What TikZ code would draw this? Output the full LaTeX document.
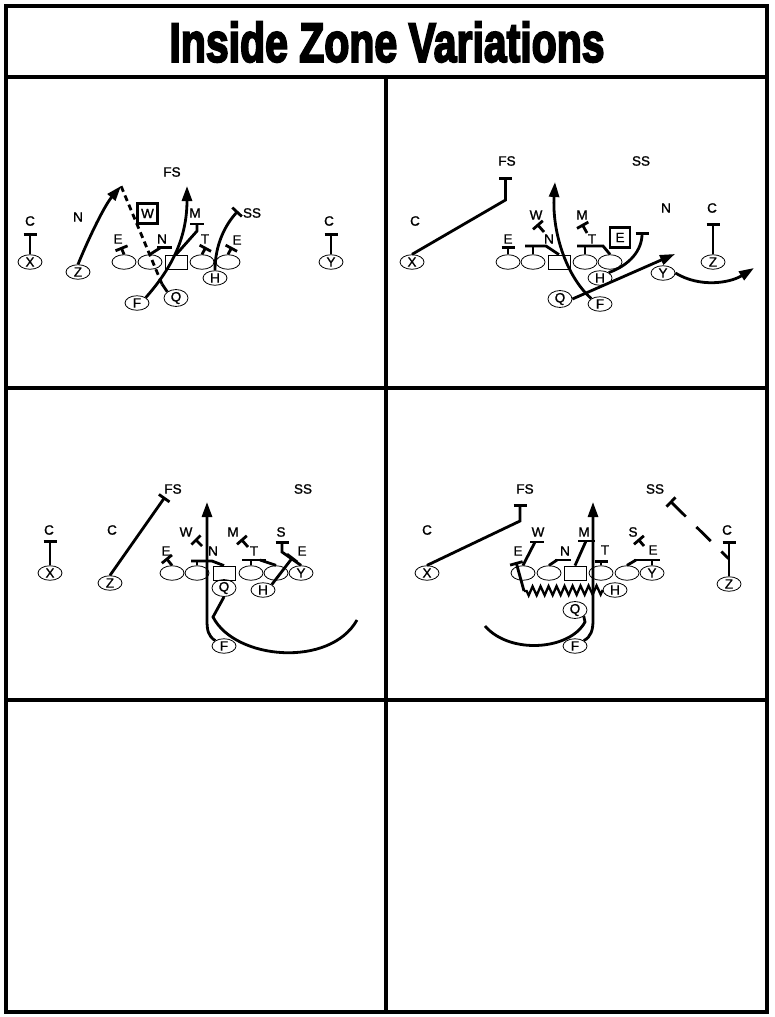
\documentclass[tikz,border=0pt]{standalone}
\usepackage{graphicx}
\usepackage{fontspec}
\setmainfont{Liberation Sans}
\newfontfamily\titlefont[FakeBold=4]{Liberation Sans Bold}
\newfontfamily\lblface[FakeBold=1.2]{Liberation Sans}
\usetikzlibrary{arrows.meta,shapes.geometric,decorations.pathmorphing}
\newcommand\lblfont{\lblface\fontsize{13.5}{14}\selectfont}
\begin{document}
\begin{tikzpicture}[x=1pt,y=-1pt,
  frame/.style={line width=3.5pt},
  pl/.style={ellipse, draw, line width=0.8pt, minimum width=24pt, minimum height=14.5pt, inner sep=0pt, font=\lblfont},
  ctr/.style={rectangle, draw, line width=0.8pt, minimum width=22pt, minimum height=14pt, inner sep=0pt},
  lb/.style={inner sep=0pt, font=\lblfont},
  dbox/.style={rectangle, draw, line width=2.2pt, minimum size=20pt, inner sep=0pt, font=\lblfont},
  ln/.style={line width=2.8pt},
  blk/.style={ln, -{Bar[width=13pt]}},
  rt/.style={ln, -{Triangle[length=15pt,width=10pt]}},
  zig/.style={line width=2.3pt, decorate, decoration={zigzag,segment length=8pt,amplitude=4.5pt}}
]
\useasboundingbox (0,0) rectangle (774,1017);
% frame
\draw[frame] (6,6) rectangle (767,1012);
\draw[frame] (6,77) -- (767,77);
\draw[frame] (386,77) -- (386,1012);
\draw[frame] (6,388) -- (767,388);
\draw[frame] (6,700) -- (767,700);
\node[inner sep=0pt] (title) at (387,42) {\resizebox{435pt}{40pt}{\titlefont Inside Zone Variations}};

% ===== Panel 1 =====
\node[pl] (x1) at (30,262) {X};
\node[pl] (z1) at (78,272) {Z};
\node[pl] (y1) at (331,262) {Y};
\node[pl] (l11) at (124,262) {};
\node[pl] (l12) at (150,262) {};
\node[ctr] (c1) at (176,262) {};
\node[pl] (l14) at (202,262) {};
\node[pl] (l15) at (228,262) {};
\node[pl] (h1) at (215,278) {H};
\node[pl] (q1) at (176,298) {Q};
\node[pl] (f1) at (137,303) {F};
\node[lb] (fs1) at (172,172) {FS};
\node[lb] (n1a) at (78,217) {N};
\node[lb] (c1a) at (30,221) {C};
\node[lb] (c1b) at (329,221) {C};
\node[dbox] (w1) at (147.5,213.5) {W};
\node[lb] (m1) at (195,213) {M};
\node[lb] (e1a) at (118,239) {E};
\node[lb] (n1b) at (162,239) {N};
\node[lb] (t1) at (205,239) {T};
\node[lb] (e1b) at (237,240) {E};
\node[lb] (ss1) at (252,213) {SS};
\coordinate (k1x) at (30,233);
\draw[blk] (x1.north) -- (k1x);
\coordinate (k1y) at (331,233);
\draw[blk] (y1.north) -- (k1y);
\coordinate (a1z) at (121,186);
\draw[rt] (z1.north) .. controls (90,235) and (105,205) .. (a1z);
\coordinate (p1q) at (162,284);
\draw[ln] (q1.north west) -- (p1q);
\draw[ln, dash pattern=on 6pt off 4pt] (p1q) -- (a1z);
\coordinate (a1f) at (187,186);
\draw[rt] (f1.north east) .. controls (170,270) and (187,240) .. (a1f);
\coordinate (k1m) at (197,231);
\draw[ln] (c1.north) -- (k1m) -- (197,224);
\draw[ln] (190,224) -- (204,224);
\draw[blk] (l11.north) -- (121,247);
\draw[ln] (l12.north) -- (160,248);
\draw[ln] (157,247.5) -- (172,247.5);
\draw[blk] (l14.north) -- (206,247);
\draw[blk] (l15.north) -- (232,247);
\draw[blk] (h1.north) .. controls (215,245) and (225,225) .. (238,211);

% ===== Panel 2 =====
\node[pl] (x2) at (412,262) {X};
\node[pl] (l21) at (508,262) {};
\node[pl] (l22) at (533,262) {};
\node[ctr] (c2) at (559,262) {};
\node[pl] (l24) at (585,262) {};
\node[pl] (l25) at (610,262) {};
\node[pl] (h2) at (600,278) {H};
\node[pl] (q2) at (560,299) {Q};
\node[pl] (f2) at (600,304) {F};
\node[pl] (y2) at (663,273) {Y};
\node[pl] (z2) at (713,262) {Z};
\node[lb] (fs2) at (507,161) {FS};
\node[lb] (ss2) at (641,161) {SS};
\node[lb] (c2a) at (415,221) {C};
\node[lb] (w2) at (536,215) {W};
\node[lb] (m2) at (582,215) {M};
\node[lb] (n2a) at (666,208) {N};
\node[lb] (c2b) at (712,208) {C};
\node[lb] (e2a) at (508,239) {E};
\node[lb] (n2b) at (549,239) {N};
\node[lb] (t2) at (592,239) {T};
\node[dbox] (e2b) at (620,237.5) {E};
\draw[blk] (x2.north) -- (505.5,200) -- (505.5,177);
\draw[blk] (544,232) -- (537,224);
\draw[blk] (587,233) -- (582,224);
\draw[blk] (l21.north) -- (508,246);
\draw[ln] (l22.north) -- (533,246);
\draw[ln] (525,246) -- (546,246) -- (c2.north);
\draw[ln] (l24.north) -- (585,246);
\draw[ln] (577,246) -- (603,246) -- (l25.north);
\draw[blk] (h2.north east) .. controls (630,265) and (642,250) .. (642,232);
\coordinate (a2q) at (675,254);
\draw[rt] (q2.east) -- (a2q);
\coordinate (a2f) at (555,182);
\draw[rt] (f2.north west) .. controls (565,275) and (552,230) .. (a2f);
\coordinate (a2y) at (754,268);
\draw[rt] (y2.east) .. controls (700,288) and (730,283) .. (a2y);
\draw[blk] (z2.north) -- (713,223);

% ===== Panel 3 =====
\node[pl] (x3) at (50,573) {X};
\node[pl] (z3) at (110,583) {Z};
\node[pl] (l31) at (172,573) {};
\node[pl] (l32) at (197,573) {};
\node[ctr] (c3) at (224,573) {};
\node[pl] (l34) at (251,573) {};
\node[pl] (l35) at (276,573) {};
\node[pl] (y3) at (301,573) {Y};
\node[pl] (q3) at (224,588) {Q};
\node[pl] (h3) at (263,590) {H};
\node[pl] (f3) at (224,646) {F};
\node[lb] (fs3) at (173,489) {FS};
\node[lb] (ss3) at (303,489) {SS};
\node[lb] (c3a) at (49,530) {C};
\node[lb] (c3b) at (112,530) {C};
\node[lb] (w3) at (186,532) {W};
\node[lb] (m3) at (233,532) {M};
\node[lb] (s3) at (281,532) {S};
\node[lb] (e3a) at (166,551) {E};
\node[lb] (n3) at (213,551) {N};
\node[lb] (t3) at (254,551) {T};
\node[lb] (e3b) at (302,551) {E};
\draw[blk] (x3.north) -- (50,540);
\draw[blk] (z3.north) -- (165,497);
\draw[blk] (202,546) -- (195,539);
\draw[blk] (248,547) -- (241,539);
\draw[blk] (l31.north) -- (166,558);
\draw[ln] (l32.north) -- (197,561);
\draw[ln] (191,561) -- (212,561) -- (c3.north);
\draw[ln] (l34.north) -- (251,560);
\draw[ln] (242,560) -- (266,560);
\draw[ln] (260,560) -- (l35.north);
\draw[blk] (y3.north) -- (282,552) -- (282,541);
\draw[blk] (h3.north east) -- (293,557);
\coordinate (a3f) at (207,502);
\draw[rt] (f3.north west) .. controls (208,636) and (207,630) .. (207,620) -- (a3f);
\coordinate (e3q) at (357,620);
\draw[ln] (q3.south) -- (213,617) .. controls (235,660) and (330,668) .. (e3q);

% ===== Panel 4 =====
\node[pl] (x4) at (427,573) {X};
\node[pl] (l41) at (523,573) {};
\node[pl] (l42) at (549,573) {};
\node[ctr] (c4) at (575,573) {};
\node[pl] (l44) at (601,573) {};
\node[pl] (l45) at (627,573) {};
\node[pl] (y4) at (652,573) {Y};
\node[pl] (h4) at (615,590) {H};
\node[pl] (q4) at (575,610) {Q};
\node[pl] (f4) at (575,646) {F};
\node[pl] (z4) at (729,584) {Z};
\node[lb] (fs4) at (525,489) {FS};
\node[lb] (ss4) at (655,489) {SS};
\node[lb] (c4a) at (427,530) {C};
\node[lb] (c4b) at (727,530) {C};
\node[lb] (w4) at (538,532) {W};
\node[lb] (m4) at (584,532) {M};
\node[lb] (s4) at (633,532) {S};
\node[lb] (e4a) at (518,551) {E};
\node[lb] (n4) at (565,551) {N};
\node[lb] (t4) at (605,550) {T};
\node[lb] (e4b) at (653,550) {E};
\draw[blk] (x4.north) -- (520,521) -- (520,504);
\draw[ln] (l41.north) -- (535,542);
\draw[ln] (530,542) -- (544,542);
\draw[ln] (l42.north) -- (557,560);
\draw[ln] (555,560) -- (571,560);
\draw[ln] (c4.north) -- (586,541);
\draw[ln] (578,541) -- (595,541);
\draw[blk] (l44.north) -- (601,560);
\draw[ln] (y4.north) -- (652,560);
\draw[ln] (634,560) -- (660,560);
\draw[ln] (l45.north) -- (636,560);
\draw[blk] (644,546) -- (638,539);
\coordinate (k4h) at (524,591);
\draw[zig] (h4.west) -- (k4h);
\draw[blk] (k4h) -- (516,562);
\coordinate (a4f) at (593,502);
\draw[rt] (f4.north east) .. controls (591,637) and (593,630) .. (593,620) -- (a4f);
\coordinate (e4q) at (485,626);
\draw[ln] (q4.south east) -- (585,622) .. controls (570,650) and (510,655) .. (e4q);
\draw[blk] (z4.north) -- (729,541);
\coordinate (k4z) at (729,559);
\coordinate (k4s) at (670,501);
\draw[ln, dash pattern=on 20pt off 15pt, {Bar[width=13pt]}-] (k4s) -- (k4z);
\end{tikzpicture}
\end{document}
